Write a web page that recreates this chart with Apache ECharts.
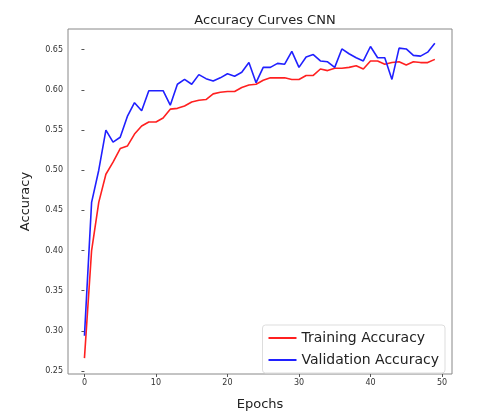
<!DOCTYPE html>
<html>
<head>
<meta charset="utf-8">
<script src="https://cdn.jsdelivr.net/npm/echarts@6/dist/echarts.min.js"></script>
<style>html,body{margin:0;padding:0;background:#fff}#c{width:501px;height:416px}</style>
</head>
<body>
<div id="c"></div>
<script>
var epochs = [];
for (var i = 0; i < 50; i++) epochs.push(i);
var trainAcc = [0.266,0.40,0.46,0.495,0.51,0.527,0.53,0.545,0.555,0.56,0.56,0.565,0.576,0.577,0.58,0.585,0.587,0.588,0.595,0.597,0.598,0.598,0.603,0.606,0.607,0.612,0.615,0.615,0.615,0.613,0.613,0.618,0.618,0.626,0.624,0.627,0.627,0.628,0.630,0.626,0.636,0.636,0.632,0.634,0.635,0.631,0.635,0.634,0.634,0.638];
var valAcc = [0.294,0.46,0.50,0.55,0.535,0.541,0.567,0.584,0.574,0.599,0.599,0.599,0.581,0.607,0.613,0.607,0.619,0.614,0.611,0.615,0.620,0.617,0.622,0.634,0.609,0.628,0.628,0.633,0.632,0.648,0.628,0.641,0.644,0.636,0.635,0.628,0.651,0.645,0.640,0.636,0.654,0.640,0.640,0.613,0.652,0.651,0.643,0.642,0.647,0.658];
var xTicks = [0, 10, 20, 30, 40, 50];
var yTicks = [0.25, 0.30, 0.35, 0.40, 0.45, 0.50, 0.55, 0.60, 0.65];

function pairs(ys) { return epochs.map(function (x, i) { return [x, ys[i]]; }); }

var chart = echarts.init(document.getElementById('c'));
chart.setOption({
  animation: false,
  title: {
    text: 'Accuracy Curves CNN', left: 260, top: 9, textAlign: 'center',
    textStyle: { fontFamily: 'DejaVu Sans', fontSize: 13, fontWeight: 'normal', color: '#222' }
  },
  grid: { left: 68, right: 49, top: 29, bottom: 36, show: true, borderColor: '#888', borderWidth: 1 },
  legend: {
    orient: 'vertical', right: 56, bottom: 43, itemWidth: 28, itemHeight: 2, itemGap: 8,
    backgroundColor: '#fff', borderColor: '#ddd', borderWidth: 1, borderRadius: 3, padding: [6, 6],
    icon: 'rect',
    textStyle: { fontFamily: 'DejaVu Sans', fontSize: 14, color: '#222' },
    data: ['Training Accuracy', 'Validation Accuracy']
  },
  xAxis: {
    type: 'value', min: -2.3, max: 51.4,
    name: 'Epochs', nameLocation: 'middle', nameGap: 24,
    nameTextStyle: { fontFamily: 'DejaVu Sans', fontSize: 13, color: '#222' },
    axisLine: { show: false }, splitLine: { show: false },
    axisTick: { show: true, customValues: xTicks, length: 3, lineStyle: { color: '#555' } },
    axisLabel: { customValues: xTicks, fontFamily: 'DejaVu Sans', fontSize: 8, color: '#333', margin: 5 }
  },
  yAxis: {
    type: 'value', min: 0.2463, max: 0.6758,
    name: 'Accuracy', nameLocation: 'middle', nameGap: 36,
    nameTextStyle: { fontFamily: 'DejaVu Sans', fontSize: 13, color: '#222' },
    axisLine: { show: false }, splitLine: { show: false },
    axisTick: { show: true, customValues: yTicks, length: 3, lineStyle: { color: '#555' } },
    axisLabel: { customValues: yTicks, fontFamily: 'DejaVu Sans', fontSize: 8, color: '#333', margin: 5,
      formatter: function (v) { return v.toFixed(2); } }
  },
  series: [
    { name: 'Training Accuracy', type: 'line', symbol: 'none', data: pairs(trainAcc),
      lineStyle: { color: '#ff2020', width: 1.6 }, itemStyle: { color: '#ff2020' } },
    { name: 'Validation Accuracy', type: 'line', symbol: 'none', data: pairs(valAcc),
      lineStyle: { color: '#2020ff', width: 1.6 }, itemStyle: { color: '#2020ff' } }
  ]
});
</script>
</body>
</html>
